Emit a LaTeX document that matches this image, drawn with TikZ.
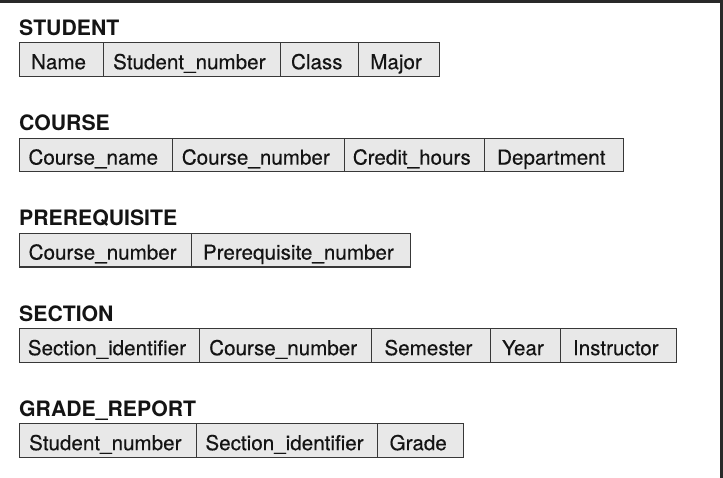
\documentclass[tikz,border=0pt]{standalone}
\usepackage{fontspec}
\setmainfont{TeX Gyre Heros}
\newfontfamily\cellfont{TeX Gyre Heros}[FakeBold=0.3]
\begin{document}
\begin{tikzpicture}[x=1bp,y=-1bp,
  cell/.style={draw=black!78, line width=1.1bp, fill=black!9, rectangle,
    anchor=north west, inner sep=0pt, minimum height=33.7bp,
    text height=20bp, text depth=1bp, text=black!92,
    font=\cellfont\fontsize{20.7}{24}\selectfont, execute at end node={\kern5bp}},
  title/.style={anchor=base west, inner sep=0pt, text=black!92,
    font=\fontsize{21.3}{24}\selectfont\bfseries},
  frame/.style={fill=black!84, draw=none}]
\useasboundingbox (0,0) rectangle (723,478);
\fill[frame] (0,0) rectangle (723,3);
\fill[frame] (720,0) rectangle (723,478);

% STUDENT
\node[title] (tst) at (19,35.5) {STUDENT};
\node[cell, minimum width=84bp]    (st1) at (18.5,42.3) {Name};
\node[cell, minimum width=177.5bp] (st2) at (102.5,42.3) {Student\_number};
\node[cell, minimum width=77.5bp]  (st3) at (280,42.3) {Class};
\node[cell, minimum width=81bp]    (st4) at (357.5,42.3) {Major};

% COURSE
\node[title] (tco) at (19,130.9) {COURSE};
\node[cell, minimum width=153.5bp] (co1) at (18.5,137.7) {Course\_name};
\node[cell, minimum width=171.5bp] (co2) at (172,137.7) {Course\_number};
\node[cell, minimum width=140.5bp] (co3) at (343.5,137.7) {Credit\_hours};
\node[cell, minimum width=138.5bp] (co4) at (484,137.7) {Department};

% PREREQUISITE
\node[title] (tpr) at (19,225.9) {PREREQUISITE};
\node[cell, minimum width=172.2bp] (pr1) at (18.5,232.7) {Course\_number};
\node[cell, minimum width=219.3bp] (pr2) at (190.7,232.7) {Prerequisite\_number};

% SECTION
\node[title] (tse) at (19,321.5) {SECTION};
\node[cell, minimum width=180.8bp] (se1) at (18.5,328.3) {Section\_identifier};
\node[cell, minimum width=171.7bp] (se2) at (199.3,328.3) {Course\_number};
\node[cell, minimum width=118.7bp] (se3) at (371,328.3) {Semester};
\node[cell, minimum width=70.3bp]  (se4) at (489.7,328.3) {Year};
\node[cell, minimum width=115.5bp] (se5) at (560,328.3) {Instructor};

% GRADE_REPORT
\node[title] (tgr) at (19,416.5) {GRADE\_REPORT};
\node[cell, minimum width=177.5bp] (gr1) at (18.5,423.3) {Student\_number};
\node[cell, minimum width=181bp]   (gr2) at (196,423.3) {Section\_identifier};
\node[cell, minimum width=86.3bp]  (gr3) at (377,423.3) {Grade};
\end{tikzpicture}
\end{document}
